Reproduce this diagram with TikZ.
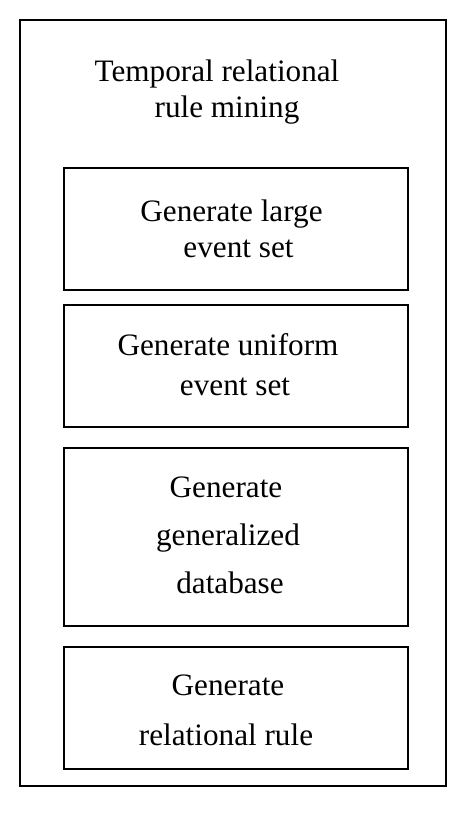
\documentclass[tikz,border=0pt]{standalone}
\usepackage{fontspec}
\setmainfont{Liberation Serif}
\begin{document}
\begin{tikzpicture}[x=1pt,y=-1pt,
  frame/.style={draw=black,line width=2pt},
  lbl/.style={anchor=base,inner sep=0pt,font=\fontsize{31.2}{36}\selectfont}]
\useasboundingbox (0,0) rectangle (474,818);
\draw[frame] (20,20) rectangle (446,786);
\node[lbl] (t1) at (217,82) {Temporal relational};
\node[lbl] (t2) at (227,118) {rule mining};
\draw[frame] (64,168) rectangle (408,290);
\node[lbl] (a1) at (231.5,222) {Generate large};
\node[lbl] (a2) at (238.5,257) {event set};
\draw[frame] (64,305) rectangle (408,427);
\node[lbl] (b1) at (228,355) {Generate uniform};
\node[lbl] (b2) at (235,395) {event set};
\draw[frame] (64,448) rectangle (408,626);
\node[lbl] (c1) at (226,497) {Generate};
\node[lbl] (c2) at (228,545) {generalized};
\node[lbl] (c3) at (230,593) {database};
\draw[frame] (64,647) rectangle (408,769);
\node[lbl] (d1) at (228,695) {Generate};
\node[lbl] (d2) at (226,745) {relational rule};
\end{tikzpicture}
\end{document}
